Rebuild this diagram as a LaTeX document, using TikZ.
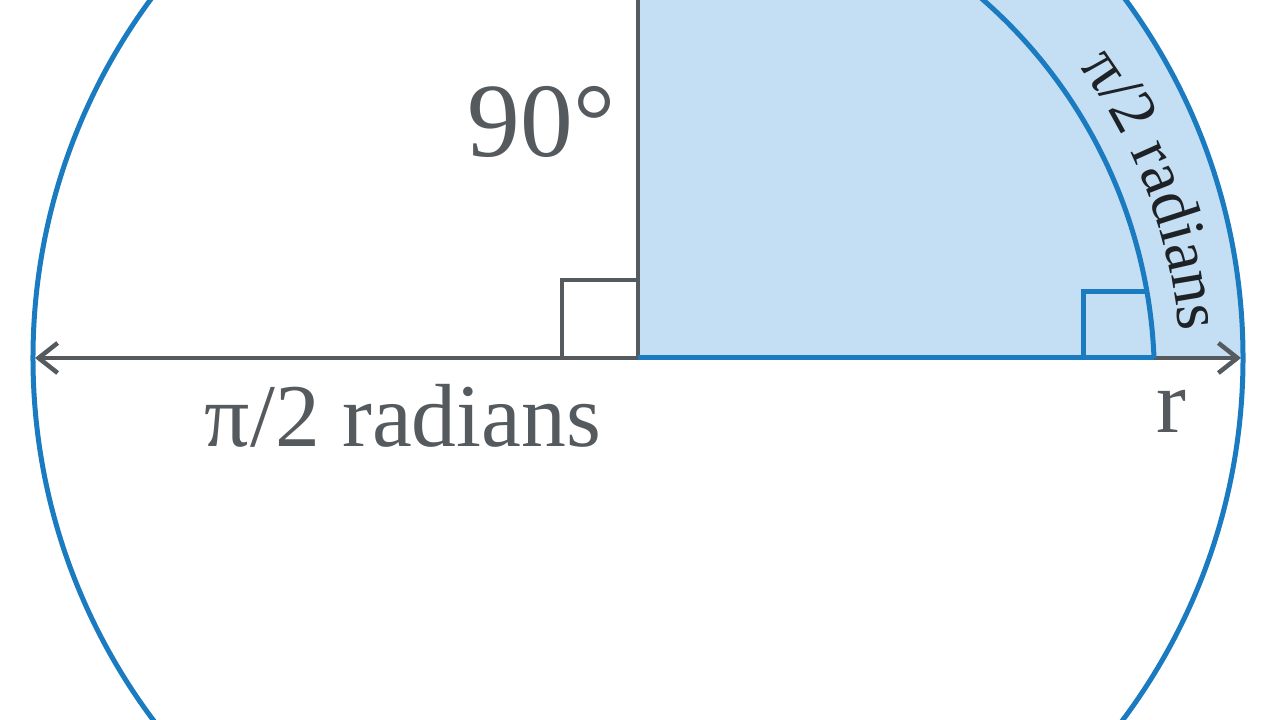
\documentclass[tikz,border=0pt]{standalone}
\usepackage{fontspec}
\setmainfont{Liberation Serif}
\usetikzlibrary{arrows.meta,decorations.text}
\definecolor{ringblue}{HTML}{1B7BC0}
\definecolor{sectorblue}{HTML}{C4DFF3}
\definecolor{inkgray}{HTML}{555A5E}
\definecolor{arcink}{HTML}{1E2226}
\begin{document}
\begin{tikzpicture}[
    graystroke/.style={draw=inkgray, line width=0.045cm},
    bluestroke/.style={draw=ringblue, line width=0.05cm},
    graytext/.style={text=inkgray, inner sep=0pt},
    barb/.tip={Straight Barb[length=0.19cm,width=0.3cm]}
  ]
  \useasboundingbox (-6.38,-3.62) rectangle (6.42,3.58);
  \clip (-6.38,-3.62) rectangle (6.42,3.58);
  \coordinate (O) at (0,0);
  \coordinate (C) at (0.13,-0.2); % centre of the inner arc
  \coordinate (A) at (5.16,0);
  % shaded quarter
  \fill[sectorblue] (O) -- (6.05,0) arc[start angle=0,end angle=90,radius=6.05] -- cycle;
  \draw[graystroke] (O) -- (0,3.7);
  \draw[graystroke, barb-barb] (-6.03,0) -- (6.03,0);
  \draw[graystroke] (-0.76,0) |- (0,0.78);
  % radius and arc
  \draw[bluestroke] (O) -- (A);
  \draw[bluestroke] (A) arc[start angle=2.28,end angle=60,radius=5.03];
  \draw[bluestroke] (4.45,0) |- (5.09,0.66);
  \draw[bluestroke] (O) circle[radius=6.05];
  % labels
  \node[graytext, anchor=base east, font=\fontsize{30}{36}\selectfont] (deg) at (-0.22,2.01) {90°};
  \node[graytext, anchor=base, font=\fontsize{25.5}{30}\selectfont] (rad) at (-2.35,-0.89) {π/2 radians};
  \node[graytext, anchor=base, font=\fontsize{25.5}{30}\selectfont] (r) at (5.33,-0.75) {r};
  \path[decorate, decoration={text along path, text align=center, text color=arcink,
      text={|\fontsize{18.5}{22}\selectfont|π/2 radians}}]
    (C) ++(39:5.3) arc[start angle=39,end angle=2,radius=5.3];
\end{tikzpicture}
\end{document}
